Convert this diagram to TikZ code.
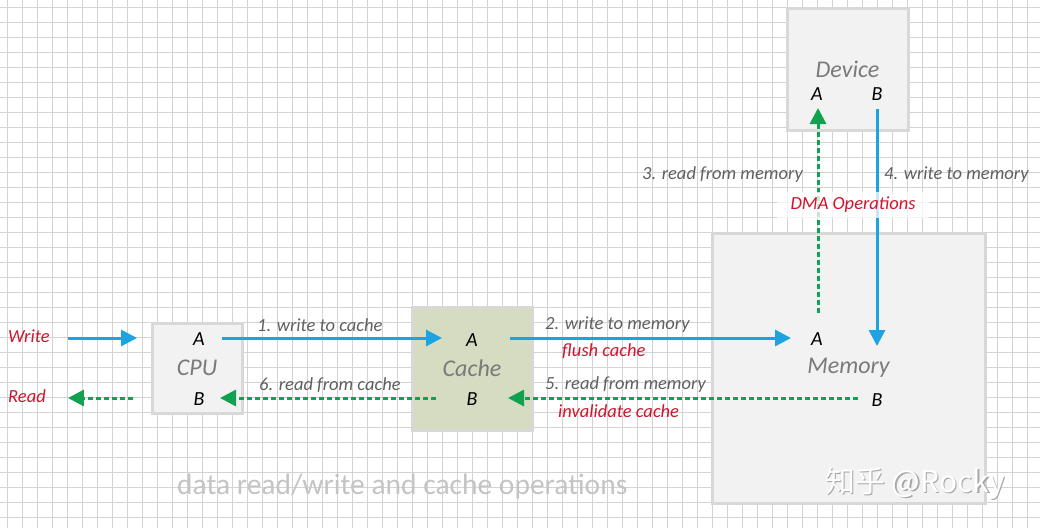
\documentclass[tikz,border=0pt]{standalone}
\usepackage{fontspec}
\setmainfont{Carlito}
\newfontfamily\cjk{Noto Sans CJK SC}
\usetikzlibrary{arrows.meta}
\definecolor{gridc}{HTML}{D3D3D3}
\definecolor{boxfill}{HTML}{F2F2F2}
\definecolor{boxline}{HTML}{D8D8D8}
\definecolor{cachefill}{HTML}{D6DCC1}
\definecolor{arrblue}{HTML}{1BA3E2}
\definecolor{arrgreen}{HTML}{12A150}
\definecolor{lblred}{HTML}{D0142C}
\definecolor{lblgray}{HTML}{606060}
\definecolor{titlegray}{HTML}{7A7A7A}
\definecolor{capgray}{HTML}{C4C4C4}
\begin{document}
\begin{tikzpicture}[x=1pt,y=-1pt,
  box/.style={draw=boxline, line width=3pt, fill=boxfill, inner sep=0pt,
    font=\fontsize{24}{28}\selectfont\itshape, text=titlegray},
  port/.style={font=\fontsize{20}{24}\selectfont\itshape, text=black, inner sep=0pt},
  lbl/.style={font=\fontsize{18.5}{22}\selectfont\itshape, text=lblgray, inner sep=0pt},
  red/.style={font=\fontsize{18.5}{22}\selectfont\itshape, text=lblred, inner sep=0pt},
  wline/.style={arrblue, line width=3pt, -{Triangle[length=16pt,width=16pt]}},
  rline/.style={arrgreen, line width=3pt, dash pattern=on 5pt off 3pt, -{Triangle[length=16pt,width=16pt]}}
]
\useasboundingbox (0,0) rectangle (1040,528);
\fill[white] (0,0) rectangle (1040,528);
\foreach \i in {0,...,69} \draw[gridc, line width=0.9pt] (7.5+15*\i,0) -- (7.5+15*\i,528);
\foreach \j in {0,...,35} \draw[gridc, line width=0.9pt] (0,7.5+15*\j) -- (1040,7.5+15*\j);

% boxes
\node[box, minimum width=90pt, minimum height=90pt] (cpu) at (197,368) {CPU};
\node[box, fill=cachefill, minimum width=120pt, minimum height=123pt] (cache) at (472,368.5) {Cache};
\node[box, minimum width=121pt, minimum height=122pt] (device) at (847.5,69) {Device};
\node[box, minimum width=273pt, minimum height=270pt] (memory) at (848.5,368) {Memory};

% ports
\node[port] (cpuA) at (199,339) {A};
\node[port] (cpuB) at (199,399) {B};
\node[port] (cacheA) at (472,340) {A};
\node[port] (cacheB) at (472,399) {B};
\node[port] (memA) at (817,339) {A};
\node[port] (memB) at (877,400) {B};
\node[port] (devA) at (817,94) {A};
\node[port] (devB) at (877,94) {B};

% outer labels
\node[red, anchor=west] (write) at (8,336) {Write};
\node[red, anchor=west] (read) at (8,396) {Read};

% arrows (xshift/yshift are in page directions: positive yshift = up)
\draw[wline] ([xshift=18pt,yshift=-2pt]write.east) -- ([xshift=-62pt,yshift=1pt]cpuA.center);
\draw[rline] ([xshift=-66pt,yshift=1pt]cpuB.center) -- ([xshift=22pt,yshift=-2pt]read.east);
\draw[wline] ([xshift=23pt,yshift=1pt]cpuA.center) -- ([xshift=-30pt,yshift=2pt]cacheA.center);
\draw[rline] ([xshift=-36pt,yshift=1pt]cacheB.center) -- ([xshift=21pt,yshift=1pt]cpuB.center);
\draw[wline] ([xshift=38pt,yshift=2pt]cacheA.center) -- ([xshift=-26pt,yshift=1pt]memA.center);
\draw[rline] ([xshift=-19pt,yshift=2pt]memB.center) -- ([xshift=36pt,yshift=1pt]cacheB.center);
\draw[rline] ([xshift=1pt,yshift=26pt]memA.center) -- ([xshift=1pt,yshift=-14pt]devA.center);
\draw[wline] ([yshift=-15pt]devB.center) -- ([yshift=54pt]memB.center);

% arrow labels
\node[lbl, anchor=west] (l1) at (257,325) {1. write to cache};
\node[lbl, anchor=west] (l6) at (259,385) {6. read from cache};
\node[lbl, anchor=west] (l2) at (545,325) {2. write to memory};
\node[red, anchor=west] (l2r) at (562,351) {flush cache};
\node[lbl, anchor=west] (l5) at (545,385) {5. read from memory};
\node[red, anchor=west] (l5r) at (558,411) {invalidate cache};
\node[lbl, anchor=east] (l3) at (803,175) {3. read from memory};
\node[lbl, anchor=west] (l4) at (884,175) {4. write to memory};
\node[red, fill=white, fill opacity=0.75, text opacity=1, inner xsep=14pt, inner ysep=5pt] (dma) at (853,205) {DMA Operations};

% caption
\node[font=\fontsize{29.5}{34}\selectfont, text=capgray, anchor=west, inner sep=0pt] (cap) at (177,487) {data read/write and cache operations};

% watermark
\node[font=\fontsize{30}{34}\selectfont\cjk, text=gray!70, anchor=west, inner sep=0pt] (wmshadow) at (826.5,484.5) {知乎 @Rocky};
\node[font=\fontsize{30}{34}\selectfont\cjk, text=white, anchor=west, inner sep=0pt] (wm) at (825,483) {知乎 @Rocky};
\end{tikzpicture}
\end{document}
